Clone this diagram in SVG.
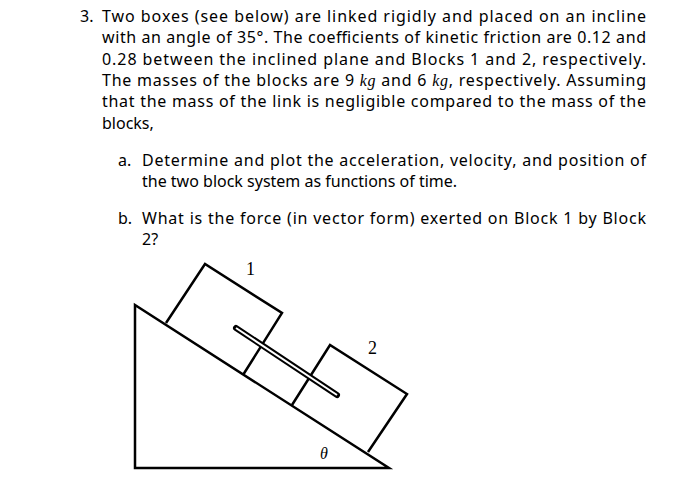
<svg xmlns="http://www.w3.org/2000/svg" width="700" height="487" viewBox="0 0 700 487">
<style>
text{font-family:"Noto Sans","Open Sans",sans-serif;font-size:16px;fill:#000}
.m{font-family:"Liberation Serif",serif;font-style:italic}
.l{font-family:"Liberation Serif",serif;font-size:18px}
.s{fill:none;stroke:#000;stroke-width:2.5;stroke-linejoin:miter}
</style>
<rect width="700" height="487" fill="#fff"/>
<g id="text">
<text x="80" y="22">3.</text>
<text x="102" y="22" textLength="544" lengthAdjust="spacing">Two boxes (see below) are linked rigidly and placed on an incline</text>
<text x="102" y="43" textLength="544" lengthAdjust="spacing">with an angle of 35°. The coefficients of kinetic friction are 0.12 and</text>
<text x="102" y="65" textLength="544" lengthAdjust="spacing">0.28 between the inclined plane and Blocks 1 and 2, respectively.</text>
<text x="102" y="86" textLength="544" lengthAdjust="spacing">The masses of the blocks are 9 <tspan class="m">kg</tspan> and 6 <tspan class="m">kg</tspan>, respectively. Assuming</text>
<text x="102" y="107" textLength="544" lengthAdjust="spacing">that the mass of the link is negligible compared to the mass of the</text>
<text x="102" y="129">blocks,</text>
<text x="118" y="166">a.</text>
<text x="142" y="166" textLength="504" lengthAdjust="spacing">Determine and plot the acceleration, velocity, and position of</text>
<text x="142" y="187">the two block system as functions of time.</text>
<text x="118" y="224">b.</text>
<text x="142" y="224" textLength="504" lengthAdjust="spacing">What is the force (in vector form) exerted on Block 1 by Block</text>
<text x="142" y="245">2?</text>
</g>
<g id="incline"><polygon class="s" points="135,305 135,468 389,468"/></g>
<g id="block1"><polyline class="s" points="166,323 205,264 282,313 243,375"/><text x="246" y="275" class="l">1</text></g>
<g id="block2"><polyline class="s" points="292,405 330,345 407,394 368,452"/><text x="368" y="354" class="l">2</text></g>
<g id="connectors">
<line x1="236" y1="328" x2="337" y2="395" stroke="#000" stroke-width="6" stroke-linecap="round"/>
<line x1="236" y1="328" x2="337" y2="395" stroke="#fff" stroke-width="2"/>
</g>
<text x="320" y="459" class="m" font-size="18">θ</text>
</svg>
